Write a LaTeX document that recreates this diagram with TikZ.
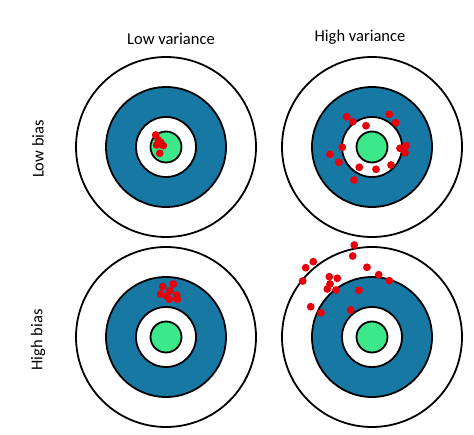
\documentclass[tikz,border=0pt]{standalone}
\usepackage{fontspec}
\setmainfont{Carlito}
\definecolor{ringblue}{HTML}{1878A4}
\definecolor{bullgreen}{HTML}{3DE88A}
\definecolor{dotred}{HTML}{E8000B}
\begin{document}
\begin{tikzpicture}[x=1pt,y=-1pt,
  ring/.style={draw=black,line width=1.8pt},
  dot/.style={fill=dotred,draw=none},
  lbl/.style={font=\fontsize{16.5}{18}\selectfont,inner sep=0pt}]
\fill[white] (0,0) rectangle (474,435);
\useasboundingbox (0,0) rectangle (474,435);
% targets
\foreach \cx/\cy in {166/147,372/147,166/337,372/337}{
  \draw[ring,fill=white] (\cx,\cy) circle (90);
  \draw[ring,fill=ringblue] (\cx,\cy) circle (60);
  \draw[ring,fill=white] (\cx,\cy) circle (30);
  \draw[ring,fill=bullgreen] (\cx,\cy) circle (15.5);
}
% low bias, low variance
\foreach \x/\y in {155.7/135,158.3/140,160.7/142.3,163.3/145.7,156.7/145,159.7/153.3}{
  \fill[dot] (\x,\y) circle (3.9);
}
% low bias, high variance
\foreach \x/\y in {346.7/116.7,352.7/121.7,366/125.7,389.3/114.3,395.7/122.7,342.3/147.3,330/154.3,339/162.3,359.3/167.3,376/169.3,391/165,354/180,400/148.3,406/145.7,405/152.7}{
  \fill[dot] (\x,\y) circle (3.9);
}
% high bias, low variance
\foreach \x/\y in {162.7/286.7,173.3/284,160.7/294,170/290.7,176.7/295,169.3/299.3,177.3/299.3,166.7/296}{
  \fill[dot] (\x,\y) circle (3.9);
}
% high bias, high variance
\foreach \x/\y in {354.3/245,352.7/256,313.3/261.7,305.7/267.7,302.7/281,367/267.3,329.3/276.7,337.3/278.3,330/284,327.3/289,336/290,378.7/274.7,389.3/280.7,359/290.3,310.7/306.7,321/312.7,350.7/310}{
  \fill[dot] (\x,\y) circle (3.9);
}
% labels
\node[lbl] (lowvar) at (171,39) {Low variance};
\node[lbl] (highvar) at (360,37) {High variance};
\node[lbl,rotate=90] (lowbias) at (38,149) {Low bias};
\node[lbl,rotate=90] (highbias) at (38,340) {High bias};
\end{tikzpicture}
\end{document}
